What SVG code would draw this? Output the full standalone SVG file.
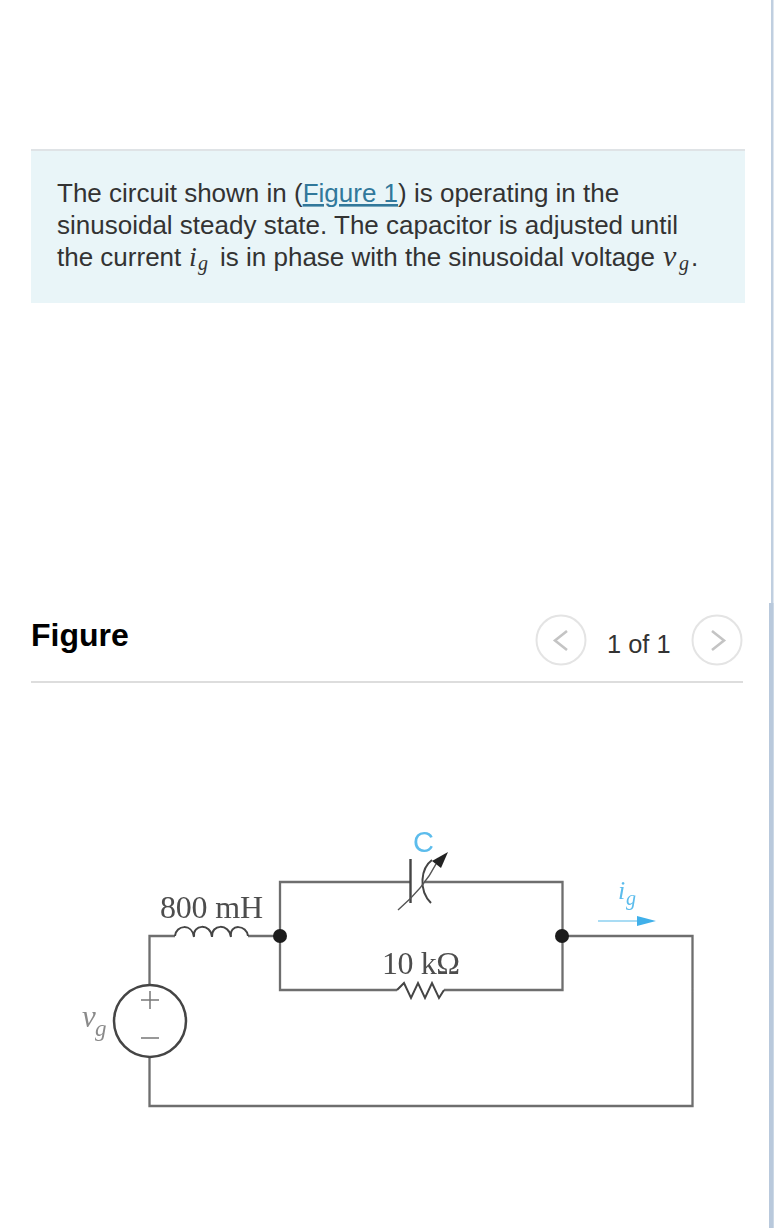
<svg xmlns="http://www.w3.org/2000/svg" width="778" height="1228" viewBox="0 0 778 1228">
<style>
.t{font-family:"Liberation Sans",Arial,sans-serif;font-size:26px;fill:#333}
.m{font-family:"Liberation Serif",serif;font-style:italic;fill:#333}
.w{fill:none;stroke:#6e6e6e;stroke-width:2.300}
.s{fill:none;stroke:#444;stroke-width:2}
.l{font-family:"Liberation Serif",serif;font-size:32px;fill:#4d4d4d}
.b{fill:#fff;stroke:#e4e4e4;stroke-width:2}
.c{fill:none;stroke:#c4c4c4;stroke-width:2.600}
.v{fill:#8a8a8a}
.u{fill:#5bbcec}
</style>
<defs><filter id="soft" x="-5%" y="-5%" width="110%" height="110%"><feGaussianBlur stdDeviation="0.55"/></filter></defs>
<rect width="778" height="1228" fill="#fff"/>
<rect x="771" y="0" width="2.500" height="1228" fill="#c0cfe0"/>
<rect x="769" y="603" width="4.500" height="625" fill="#b9c9dc"/>
<g id="prompt">
<rect x="31" y="150" width="714" height="153" fill="#e9f5f8"/>
<rect x="31" y="149" width="714" height="2" fill="#dfe3e6"/>
<text class="t" x="57" y="202">The circuit shown in (<tspan fill="#31789b" text-decoration="underline">Figure 1</tspan>) is operating in the</text>
<text class="t" x="57" y="234">sinusoidal steady state. The capacitor is adjusted until</text>
<text class="t" x="57" y="266">the current</text>
<text class="m" x="189" y="266" font-size="28">i</text><text class="m" x="198" y="270" font-size="20">g</text>
<text class="t" x="220" y="266">is in phase with the sinusoidal voltage</text>
<text class="m" x="663" y="266" font-size="30">v</text><text class="m" x="679" y="270" font-size="20">g</text>
<text class="t" x="691" y="266">.</text>
</g>
<g id="figure-header">
<text x="31" y="646" font-family="Liberation Sans,Arial,sans-serif" font-size="32" font-weight="700" fill="#000">Figure</text>
<circle class="b" cx="561" cy="640" r="24.500"/>
<path class="c" d="M567 631L555 640.500L567 650"/>
<text class="t" x="607" y="653" style="font-size:25.400px">1 of 1</text>
<circle class="b" cx="717" cy="640" r="24.500"/>
<path class="c" d="M712 631L724 640.500L712 650"/>
<rect x="31" y="681" width="712" height="2" fill="#ddd"/>
</g>
<g id="circuit" filter="url(#soft)">
<g id="connectors">
<path class="w" d="M149.500 985V936H175M248 936H280M280 936V882H410M424 882H562.500V990H444M397 990H280V936M562.500 936H692.500V1106H149.500V1057"/>
</g>
<g id="inductor"><path class="s" d="M175 936C176 925 192 923 194 937C192 924 211 923 212 937C211 924 229 923 231 937C229 923 247 925 248 936" stroke-width="1.900"/>
<text class="l" x="160" y="918" textLength="103">800 mH</text></g>
<g id="source">
<circle cx="150" cy="1021" r="36" fill="#fff" stroke="#444" stroke-width="2.500"/>
<path d="M141 1000H159M150 991V1009M141 1038H159" stroke="#777" stroke-width="1.500" fill="none"/>
<text class="m v" x="82" y="1027" font-size="31">v</text><text class="m v" x="95" y="1036" font-size="23">g</text>
</g>
<g id="capacitor">
<path d="M410.500 859V903" stroke="#444" stroke-width="2.400"/>
<path class="s" d="M432 860C421 868 418 890 431 903"/>
<path d="M398 910C412 898 426 884 436 864" fill="none" stroke="#555" stroke-width="1.500"/>
<path d="M448 852L432 861L441 868Z" fill="#222"/>
<text class="u" x="413" y="852" font-family="Liberation Sans,Arial,sans-serif" font-size="29">C</text>
</g>
<g id="resistor"><path class="s" d="M397 990L404 983L411 998L418 983L425 998L432 983L439 998L444 990"/>
<text class="l" x="382" y="974" textLength="78">10 kΩ</text></g>
<g id="nodes"><circle cx="280" cy="936" r="7" fill="#1c1c1c"/><circle cx="562" cy="936" r="7" fill="#1c1c1c"/></g>
<g id="current">
<text class="m u" x="618" y="899" font-size="26">i</text><text class="m u" x="626" y="905" font-size="20">g</text>
<path d="M598 921H638" stroke="#a9dcf4" stroke-width="2"/><path d="M637 916L656 921L637 926Z" fill="#3fb0ea"/>
</g>
</g>
</svg>
